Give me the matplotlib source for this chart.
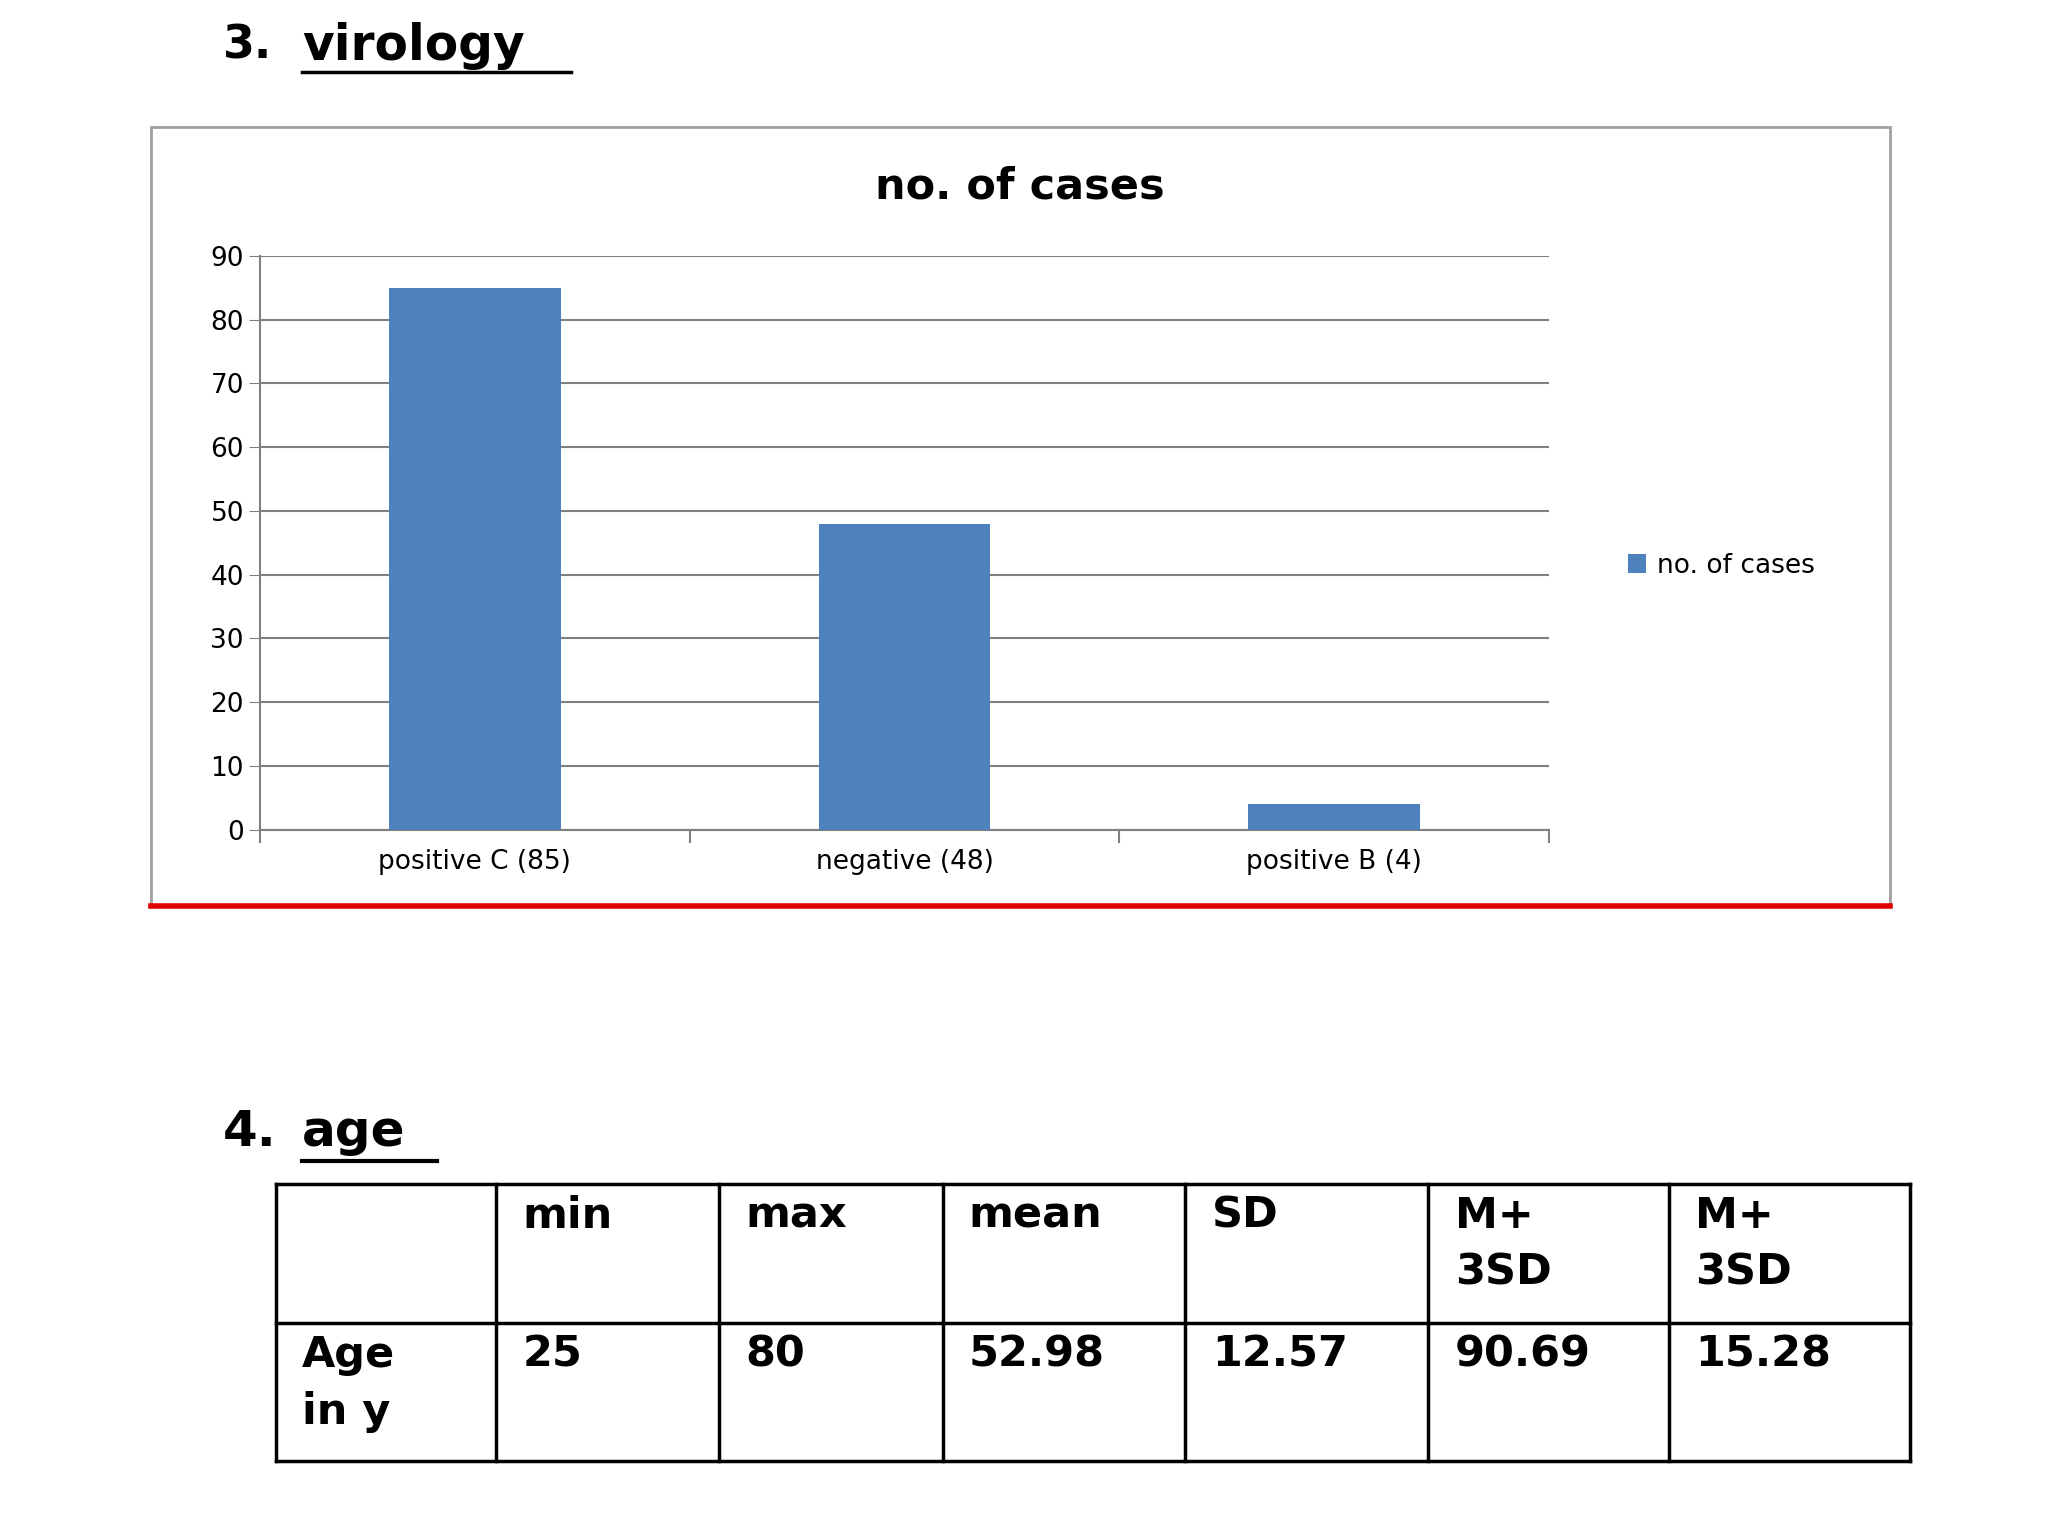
import matplotlib
matplotlib.use("Agg")
import matplotlib.pyplot as plt
from matplotlib.patches import Rectangle
from matplotlib.lines import Line2D

categories = ["positive C (85)", "negative (48)", "positive B (4)"]
values = [85, 48, 4]
yticks = [0, 10, 20, 30, 40, 50, 60, 70, 80, 90]
table_header = ["", "min", "max", "mean", "SD", "M+\n3SD", "M+\n3SD"]
table_row = ["Age\nin y", "25", "80", "52.98", "12.57", "90.69", "15.28"]

W, H = 1560, 1170
fig = plt.figure(figsize=(20.48, 15.36), dpi=100)
fx = lambda x: x / W
fy = lambda y: 1 - y / H

fig.text(fx(170), fy(35), "3.", fontsize=33, fontweight="bold", va="center", ha="left")
fig.text(fx(230), fy(35), "virology", fontsize=35, fontweight="bold", va="center", ha="left")
fig.add_artist(Line2D([fx(230), fx(435)], [fy(55), fy(55)], color="black", lw=2.5))

# chart box
fig.add_artist(Rectangle((fx(115), fy(690)), fx(1440) - fx(115), fy(97) - fy(690), fill=False, ec="#a0a0a0", lw=2))
fig.add_artist(Line2D([fx(115), fx(1440)], [fy(690), fy(690)], color="#e00000", lw=4))
fig.text(fx(777), fy(142), "no. of cases", fontsize=31, fontweight="bold", ha="center", va="center")

ax = fig.add_axes([fx(198), fy(632), fx(1180) - fx(198), fy(195) - fy(632)])
x = range(len(categories))
ax.bar(x, values, width=0.4, color="#4F81BD", label="no. of cases", zorder=3)
ax.set_xlim(-0.5, 2.5)
ax.set_ylim(0, 90)
ax.set_yticks(yticks)
ax.set_xticks(list(x))
ax.set_xticklabels(categories, fontsize=19)
ax.tick_params(axis="y", labelsize=19, length=8, color="#808080")
ax.tick_params(axis="x", length=0, pad=14)
for b in [-0.5, 0.5, 1.5, 2.5]:
    ax.plot([b, b], [0, -2], color="#808080", lw=1.5, clip_on=False)
ax.grid(axis="y", color="#808080", lw=1.5, zorder=0)
for s in ["top", "right"]:
    ax.spines[s].set_visible(False)
for s in ["left", "bottom"]:
    ax.spines[s].set_color("#808080")
    ax.spines[s].set_linewidth(1.5)
ax.legend(loc="center left", bbox_to_anchor=((1222 - 198) / (1180 - 198), 0.46),
          frameon=False, fontsize=19, handlelength=0.7, handleheight=0.7, handletextpad=0.4)

# section 4
fig.text(fx(170), fy(862), "4.", fontsize=36, fontweight="bold", va="center", ha="left")
fig.text(fx(230), fy(862), "age", fontsize=36, fontweight="bold", va="center", ha="left")
fig.add_artist(Line2D([fx(230), fx(333)], [fy(884), fy(884)], color="black", lw=3))

cols = [210, 378, 548, 718, 903, 1088, 1271, 1455]
rows = [902, 1008, 1113]
for c in cols:
    fig.add_artist(Line2D([fx(c), fx(c)], [fy(rows[0]), fy(rows[-1])], color="black", lw=2.5))
for r in rows:
    fig.add_artist(Line2D([fx(cols[0]), fx(cols[-1])], [fy(r), fy(r)], color="black", lw=2.5))
for ri, row in enumerate([table_header, table_row]):
    for ci, txt in enumerate(row):
        fig.text(fx(cols[ci] + 20), fy(rows[ri] + 8), txt, fontsize=31, fontweight="bold",
                 ha="left", va="top", linespacing=1.45)

fig.savefig("out.png", dpi=100, facecolor="white")
